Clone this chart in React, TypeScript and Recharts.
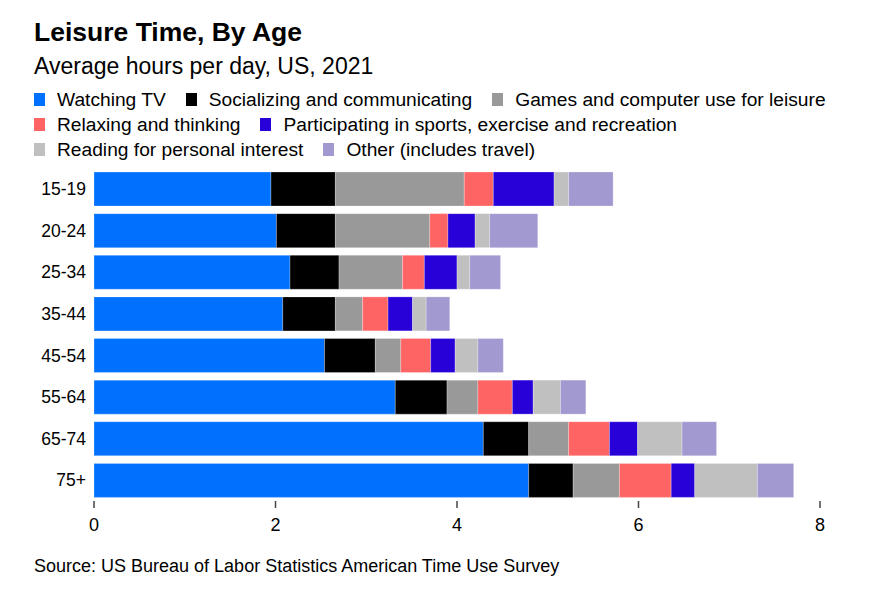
import React from 'react';
import { BarChart, Bar, XAxis, YAxis } from 'recharts';

const ageGroups = ['15-19', '20-24', '25-34', '35-44', '45-54', '55-64', '65-74', '75+'];

const watchingTV = [1.95, 2.01, 2.16, 2.08, 2.54, 3.32, 4.29, 4.79];
const socializing = [0.71, 0.65, 0.54, 0.58, 0.56, 0.57, 0.5, 0.49];
const games = [1.42, 1.04, 0.7, 0.3, 0.28, 0.34, 0.44, 0.51];
const relaxing = [0.32, 0.2, 0.24, 0.28, 0.33, 0.38, 0.45, 0.57];
const sports = [0.67, 0.3, 0.36, 0.27, 0.27, 0.23, 0.31, 0.26];
const reading = [0.16, 0.16, 0.14, 0.15, 0.25, 0.3, 0.49, 0.69];
const other = [0.49, 0.53, 0.34, 0.26, 0.28, 0.28, 0.38, 0.4];

const xTicks = [0, 2, 4, 6, 8];

const series = [
  { key: 'tv', name: 'Watching TV', color: '#0070ff', values: watchingTV },
  { key: 'social', name: 'Socializing and communicating', color: '#000000', values: socializing },
  { key: 'games', name: 'Games and computer use for leisure', color: '#999999', values: games },
  { key: 'relax', name: 'Relaxing and thinking', color: '#ff6464', values: relaxing },
  { key: 'sports', name: 'Participating in sports, exercise and recreation', color: '#2800d8', values: sports },
  { key: 'reading', name: 'Reading for personal interest', color: '#c0c0c0', values: reading },
  { key: 'other', name: 'Other (includes travel)', color: '#a299d0', values: other },
];

// legend rows as in the original layout
const legendRows = [
  ['tv', 'social', 'games'],
  ['relax', 'sports'],
  ['reading', 'other'],
];

const data = ageGroups.map((age, i) => {
  const row: Record<string, string | number> = { age };
  series.forEach(s => { row[s.key] = s.values[i]; });
  return row;
});

const font = '"Liberation Sans", Arial, sans-serif';

export default function App() {
  return (
    <div style={{ position: 'absolute', left: 0, top: 0, width: 870, height: 606, background: '#fff', fontFamily: font, color: '#000' }}>
      <BarChart
        width={870}
        height={606}
        data={data}
        layout="vertical"
        margin={{ top: 168, right: 50, bottom: 65, left: 0 }}
        style={{ position: 'absolute', left: 0, top: 0 }}
      >
        <XAxis
          type="number"
          domain={[0, 8]}
          ticks={xTicks}
          axisLine={false}
          tickLine={{ stroke: '#444', strokeWidth: 1.5 }}
          tickSize={7}
          tickMargin={10}
          height={40}
          tick={{ fontSize: 18, fill: '#000', fontFamily: font }}
        />
        <YAxis
          type="category"
          dataKey="age"
          width={94}
          axisLine={false}
          tickLine={false}
          tickSize={0}
          tickMargin={8}
          tick={{ fontSize: 17.5, fill: '#000', fontFamily: font }}
        />
        {series.map(s => (
          <Bar
            key={s.key}
            dataKey={s.key}
            name={s.name}
            stackId="a"
            fill={s.color}
            stroke="rgba(255,255,255,0.25)"
            strokeWidth={1}
            barSize={34}
            isAnimationActive={false}
          />
        ))}
      </BarChart>

      <div style={{ position: 'absolute', left: 34, top: 17, fontSize: 26.5, fontWeight: 700 }}>Leisure Time, By Age</div>
      <div style={{ position: 'absolute', left: 34, top: 53, fontSize: 23 }}>Average hours per day, US, 2021</div>

      <div style={{ position: 'absolute', left: 34, top: 88, width: 836, whiteSpace: 'nowrap' }}>
        {legendRows.map((keys, r) => (
          <div key={r} style={{ display: 'flex', height: 25 }}>
            {keys.map(k => {
              const s = series.find(x => x.key === k)!;
              return (
                <div key={k} style={{ display: 'flex', alignItems: 'center', marginRight: 20, height: 23, fontSize: 19.2 }}>
                  <span style={{ display: 'inline-block', width: 11, height: 13, background: s.color, marginRight: 12 }} />
                  <span>{s.name}</span>
                </div>
              );
            })}
          </div>
        ))}
      </div>

      <div style={{ position: 'absolute', left: 34, top: 556, fontSize: 18 }}>
        Source: US Bureau of Labor Statistics American Time Use Survey
      </div>
    </div>
  );
}
